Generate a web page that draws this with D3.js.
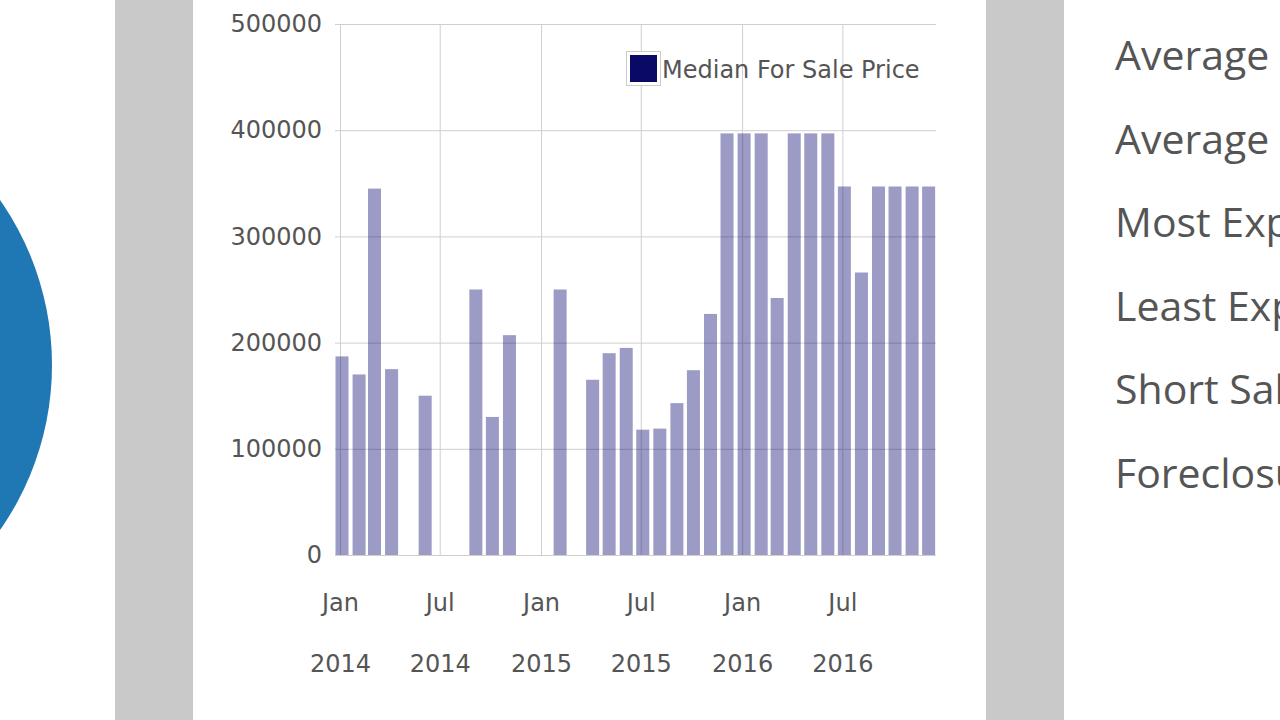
<!DOCTYPE html>
<html>
<head>
<meta charset="utf-8">
<script src="https://d3js.org/d3.v7.min.js"></script>
<style>
  html, body { margin: 0; padding: 0; background: #fff; overflow: hidden; }
  svg { display: block; }
</style>
</head>
<body>
<svg id="chart" width="1280" height="720"></svg>
<script>
// Median for-sale price by month, Jan 2014 - Dec 2016 (null = no listing that month)
const months = [
  '2014-01', '2014-02', '2014-03', '2014-04', '2014-05', '2014-06',
  '2014-07', '2014-08', '2014-09', '2014-10', '2014-11', '2014-12',
  '2015-01', '2015-02', '2015-03', '2015-04', '2015-05', '2015-06',
  '2015-07', '2015-08', '2015-09', '2015-10', '2015-11', '2015-12',
  '2016-01', '2016-02', '2016-03', '2016-04', '2016-05', '2016-06',
  '2016-07', '2016-08', '2016-09', '2016-10', '2016-11', '2016-12'
];
const medianPrice = [
  187000, 170000, 345000, 175000, null, 150000,
  null, null, 250000, 130000, 207000, null,
  null, 250000, null, 165000, 190000, 195000,
  118000, 119000, 143000, 174000, 227000, 397000,
  397000, 397000, 242000, 397000, 397000, 397000,
  347000, 266000, 347000, 347000, 347000, 347000
];
const yTicks = [0, 100000, 200000, 300000, 400000, 500000];
const seriesName = 'Median For Sale Price';
const sideLabels = ['Average Price', 'Average Days', 'Most Expensive', 'Least Expensive', 'Short Sales', 'Foreclosures'];

const parseMonth = d3.timeParse('%Y-%m');
const data = months.map((m, i) => ({ date: parseMonth(m), value: medianPrice[i] }));

const svg = d3.select('#chart');
const chartFont = '"DejaVu Sans", sans-serif';
const fontSize = 24;
const textColor = '#555';

// Page furniture: side panels and the pie edge on the left
svg.append('rect').attr('x', 115).attr('y', 0).attr('width', 78).attr('height', 720).attr('fill', '#c9c9c9');
svg.append('rect').attr('x', 986).attr('y', 0).attr('width', 78).attr('height', 720).attr('fill', '#c9c9c9');
svg.append('circle').attr('cx', -236).attr('cy', 365).attr('r', 288).attr('fill', d3.schemeCategory10[0]);

// Scales
const x = d3.scaleTime()
  .domain([new Date(2014, 0, 1), new Date(2016, 11, 18)])
  .range([340, 936]);
const y = d3.scaleLinear()
  .domain([0, 500000])
  .range([555, 24]);

const g = svg.append('g');

// Horizontal grid + y labels
const yAxis = d3.axisLeft(y)
  .tickValues(yTicks)
  .tickFormat(d3.format('d'))
  .tickSizeOuter(0)
  .tickPadding(12);

const yG = g.append('g')
  .attr('transform', 'translate(340,0)')
  .call(yAxis);
yG.select('.domain').remove();
yG.selectAll('.tick line')
  .attr('x1', -5)
  .attr('x2', 936 - 340)
  .attr('stroke', '#cfcfcf');
yG.selectAll('.tick text')
  .attr('font-family', chartFont)
  .attr('font-size', fontSize)
  .attr('fill', textColor);

// Vertical grid + two-line x labels
const xAxis = d3.axisBottom(x)
  .ticks(d3.timeMonth.every(6))
  .tickFormat(d3.timeFormat('%b'))
  .tickSize(0)
  .tickPadding(0);

const xG = g.append('g')
  .attr('transform', 'translate(0,555)')
  .call(xAxis);
xG.select('.domain')
  .attr('stroke', '#cfcfcf')
  .attr('d', 'M340,0.5H936');
xG.selectAll('.tick line')
  .attr('y1', 0)
  .attr('y2', 24 - 555)
  .attr('stroke', '#cfcfcf');
xG.selectAll('.tick text')
  .attr('font-family', chartFont)
  .attr('font-size', fontSize)
  .attr('fill', textColor)
  .attr('dy', null)
  .attr('y', 56);
xG.selectAll('.tick')
  .append('text')
  .attr('y', 117)
  .attr('text-anchor', 'middle')
  .attr('font-family', chartFont)
  .attr('font-size', fontSize)
  .attr('fill', textColor)
  .text(d => d3.timeFormat('%Y')(d));

// Bars
const barW = 13;
g.append('g')
  .selectAll('rect')
  .data(data.filter(d => d.value != null))
  .enter().append('rect')
  .attr('x', d => x(d.date) - barW / 2 + 2)
  .attr('y', d => y(d.value))
  .attr('width', barW)
  .attr('height', d => y(0) - y(d.value))
  .attr('fill', '#06066e')
  .attr('fill-opacity', 0.4);

// Legend
const legend = svg.append('g').attr('transform', 'translate(626,51)');
legend.append('rect')
  .attr('x', 0.5).attr('y', 0.5)
  .attr('width', 34).attr('height', 34)
  .attr('fill', '#fff')
  .attr('stroke', '#ccc');
legend.append('rect')
  .attr('x', 4).attr('y', 4)
  .attr('width', 27).attr('height', 27)
  .attr('fill', '#0a0a66');
legend.append('text')
  .attr('x', 36)
  .attr('y', 27)
  .attr('font-family', chartFont)
  .attr('font-size', fontSize)
  .attr('fill', textColor)
  .text(seriesName);

// Summary list on the right (cut off by the page edge, as in the source)
svg.append('g')
  .selectAll('text')
  .data(sideLabels)
  .enter().append('text')
  .attr('x', 1115)
  .attr('y', (d, i) => 70 + i * 83.6)
  .attr('font-family', '"Open Sans", sans-serif')
  .attr('font-size', 41)
  .attr('fill', textColor)
  .text(d => d);
</script>
</body>
</html>
